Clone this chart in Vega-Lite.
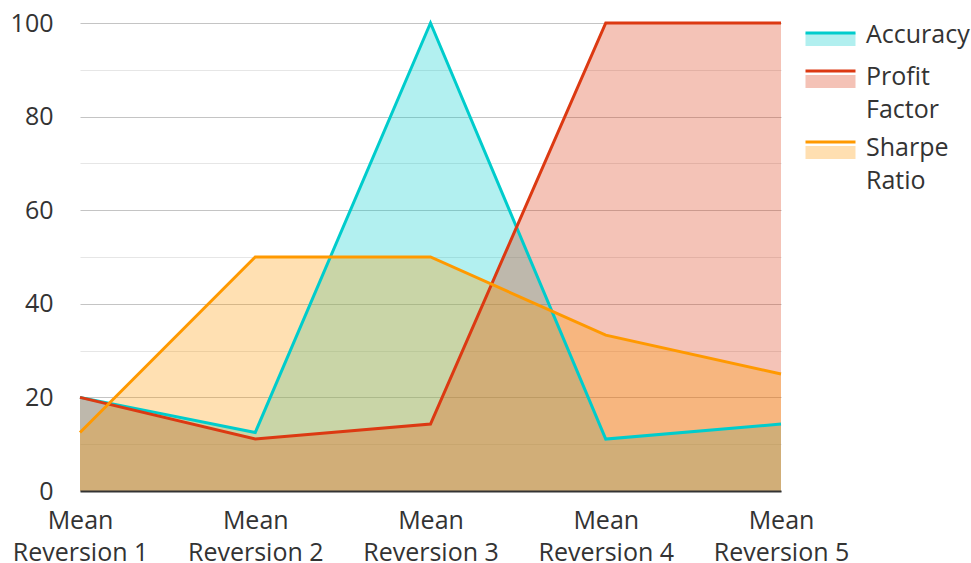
{
  "$schema": "https://vega.github.io/schema/vega-lite/v6.json",
  "width": 701,
  "height": 468,
  "autosize": {"type": "none"},
  "padding": {"left": 80, "top": 23, "right": 190, "bottom": 72},
  "config": {
    "font": "Open Sans",
    "view": {"stroke": null},
    "axis": {"labelFont": "Open Sans", "labelColor": "#333333", "labelFontSize": 25, "ticks": false, "title": null}
  },
  "data": {
    "values": [
      {"strategy": "Mean Reversion 1", "metric": "Accuracy", "series": "Accuracy", "value": 20},
      {"strategy": "Mean Reversion 2", "metric": "Accuracy", "series": "Accuracy", "value": 12.5},
      {"strategy": "Mean Reversion 3", "metric": "Accuracy", "series": "Accuracy", "value": 100},
      {"strategy": "Mean Reversion 4", "metric": "Accuracy", "series": "Accuracy", "value": 11.1},
      {"strategy": "Mean Reversion 5", "metric": "Accuracy", "series": "Accuracy", "value": 14.3},
      {"strategy": "Mean Reversion 1", "metric": "Profit Factor", "series": "Profit Factor", "value": 20},
      {"strategy": "Mean Reversion 2", "metric": "Profit Factor", "series": "Profit Factor", "value": 11.1},
      {"strategy": "Mean Reversion 3", "metric": "Profit Factor", "series": "Profit Factor", "value": 14.3},
      {"strategy": "Mean Reversion 4", "metric": "Profit Factor", "series": "Profit Factor", "value": 100},
      {"strategy": "Mean Reversion 5", "metric": "Profit Factor", "series": "Profit Factor", "value": 100},
      {"strategy": "Mean Reversion 1", "metric": "Sharpe Ratio", "series": "Sharpe Ratio", "value": 12.5},
      {"strategy": "Mean Reversion 2", "metric": "Sharpe Ratio", "series": "Sharpe Ratio", "value": 50},
      {"strategy": "Mean Reversion 3", "metric": "Sharpe Ratio", "series": "Sharpe Ratio", "value": 50},
      {"strategy": "Mean Reversion 4", "metric": "Sharpe Ratio", "series": "Sharpe Ratio", "value": 33.3},
      {"strategy": "Mean Reversion 5", "metric": "Sharpe Ratio", "series": "Sharpe Ratio", "value": 25}
    ]
  },
  "encoding": {
    "x": {
      "field": "strategy",
      "type": "ordinal",
      "scale": {"type": "point", "padding": 0, "domain": ["Mean Reversion 1", "Mean Reversion 2", "Mean Reversion 3", "Mean Reversion 4", "Mean Reversion 5"]},
      "axis": {
        "labelAngle": 0,
        "labelExpr": "[slice(datum.label,0,4), slice(datum.label,5)]",
        "labelBaseline": "top",
        "labelPadding": 17,
        "labelLineHeight": 32,
        "domainColor": "#333333",
        "domainWidth": 2,
        "grid": false,
        "zindex": 1
      }
    },
    "y": {
      "field": "value",
      "type": "quantitative",
      "stack": null,
      "scale": {"domain": [0, 100], "nice": false},
      "axis": {
        "values": [0, 10, 20, 30, 40, 50, 60, 70, 80, 90, 100],
        "labelExpr": "datum.value % 20 == 0 ? datum.label : ''",
        "domain": false,
        "labelPadding": 27,
        "gridColor": {"condition": {"test": "datum.value % 20 == 0", "value": "#c4c4c4"}, "value": "#e6e6e6"},
        "gridWidth": 1.2
      }
    }
  },
  "layer": [
    {
      "mark": {"type": "area", "fillOpacity": 0.3, "strokeWidth": 0},
      "encoding": {
        "fill": {
          "field": "metric",
          "type": "nominal",
          "scale": {"range": ["#00cccc", "#dc3912", "#ff9900"]},
          "legend": {
            "title": null,
            "orient": "none",
            "legendX": 738,
            "legendY": 4,
            "padding": 0,
            "symbolType": "M-5,-1.3H5V1.3H-5Z",
            "symbolSize": 100,
            "symbolOpacity": 0.3,
            "symbolStrokeWidth": 3,
            "symbolStrokeColor": "transparent",
            "labelFont": "Open Sans",
            "labelFontSize": 25,
            "labelColor": "#333333",
            "labelOffset": 23,
            "labelBaseline": "top",
            "labelExpr": "split(datum.label, ' ')",
            "rowPadding": 12,
            "encode": {"labels": {"update": {"dy": {"value": -17}, "lineHeight": {"value": 33}}}}
          }
        }
      }
    },
    {
      "mark": {"type": "line", "strokeWidth": 3},
      "encoding": {
        "stroke": {
          "field": "series",
          "type": "nominal",
          "scale": {"range": ["#00cccc", "#dc3912", "#ff9900"]},
          "legend": {
            "title": null,
            "orient": "none",
            "legendX": 738,
            "legendY": 4,
            "padding": 0,
            "symbolType": "M-5,-1.3H5",
            "symbolSize": 100,
            "symbolStrokeWidth": 3,
            "symbolFillColor": "transparent",
            "symbolOpacity": 1,
            "labelFont": "Open Sans",
            "labelFontSize": 25,
            "labelColor": "transparent",
            "labelOffset": 23,
            "labelBaseline": "top",
            "labelExpr": "indexof(datum.label, ' ') >= 0 ? [' ', ' '] : ' '",
            "rowPadding": 12,
            "encode": {"labels": {"update": {"dy": {"value": -17}, "lineHeight": {"value": 33}}}}
          }
        }
      }
    }
  ]
}
